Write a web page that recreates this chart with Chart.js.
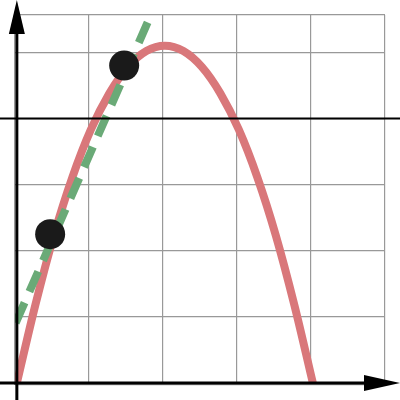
<!DOCTYPE html>
<html>
<head>
<script src="https://cdn.jsdelivr.net/npm/chart.js@4"></script>
<style>body{margin:0;background:#fff}</style>
</head>
<body>
<canvas id="c" width="400" height="400"></canvas>
<script>
// curve points
const curveX = [0, 0.25, 0.5, 0.75, 1, 1.25, 1.5, 1.75, 2, 2.25, 2.5, 2.75, 3, 3.25, 3.5, 3.75, 4];
const curveY = [0, 1.18, 2.23, 3.11, 3.83, 4.38, 4.78, 5.02, 5.1, 5.02, 4.78, 4.38, 3.83, 3.11, 2.23, 1.18, 0];
const lineX = [-0.2, 2.1];
const lineY = [0.44, 6.3];
const dotX = [0.45, 1.45];
const dotY = [2.25, 4.8];
const levelY = 4;

// draws the axes with arrows and the black level line
const axesPlugin = {
    id: "axes",
    afterDatasetsDraw(chart) {
        const ctx = chart.ctx;
        const xs = chart.scales.x, ys = chart.scales.y;
        const x0 = xs.getPixelForValue(0), y0 = ys.getPixelForValue(0);
        const yl = ys.getPixelForValue(levelY);
        ctx.save();
        ctx.strokeStyle = "#000";
        ctx.fillStyle = "#000";
        ctx.lineWidth = 2;
        ctx.beginPath();
        ctx.moveTo(0, yl); ctx.lineTo(400, yl);
        ctx.stroke();
        ctx.lineWidth = 3;
        ctx.beginPath();
        ctx.moveTo(x0, 400); ctx.lineTo(x0, 10);
        ctx.moveTo(0, y0); ctx.lineTo(390, y0);
        ctx.stroke();
        ctx.beginPath();
        ctx.moveTo(x0, 0); ctx.lineTo(x0 + 8, 34); ctx.lineTo(x0 - 8, 34); ctx.closePath();
        ctx.fill();
        ctx.beginPath();
        ctx.moveTo(400, y0); ctx.lineTo(364, y0 - 8); ctx.lineTo(364, y0 + 8); ctx.closePath();
        ctx.fill();
        ctx.restore();
    }
};

new Chart(document.getElementById("c").getContext("2d"), {
    type: "scatter",
    data: {
        datasets: [
            {
                data: dotX.map((x, i) => ({x: x, y: dotY[i]})),
                pointRadius: 15,
                backgroundColor: "#1a1a1a",
                borderWidth: 0,
                clip: false,
                order: 0
            },
            {
                data: curveX.map((x, i) => ({x: x, y: curveY[i]})),
                showLine: true,
                borderColor: "#d9777a",
                borderWidth: 8,
                pointRadius: 0,
                cubicInterpolationMode: "monotone",
                order: 2
            },
            {
                data: lineX.map((x, i) => ({x: x, y: lineY[i]})),
                showLine: true,
                borderColor: "#6aaa77",
                borderWidth: 8,
                borderDash: [22, 12],
                pointRadius: 0,
                order: 1
            }
        ]
    },
    options: {
        responsive: false,
        animation: false,
        layout: {padding: 0},
        plugins: {legend: {display: false}, tooltip: {enabled: false}},
        scales: {
            x: {
                min: -0.025, max: 4.975,
                ticks: {display: false, stepSize: 1, padding: 0},
                grid: {color: "#999", lineWidth: 1.2, drawTicks: false},
                border: {display: false},
                afterFit: s => { s.height = 0; }
            },
            y: {
                min: -0.03, max: 5.565,
                ticks: {display: false, stepSize: 1, padding: 0},
                grid: {color: "#999", lineWidth: 1.2, drawTicks: false},
                border: {display: false},
                afterFit: s => { s.width = 0; }
            }
        }
    },
    plugins: [axesPlugin]
});
</script>
</body>
</html>
